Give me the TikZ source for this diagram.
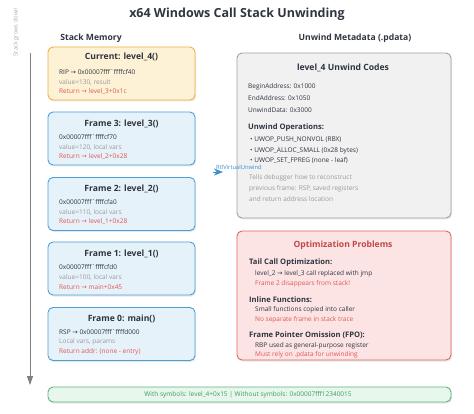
\documentclass[tikz,border=0pt]{standalone}
\usepackage{fontspec}
\setmainfont{Open Sans}
\newfontfamily\arrowfont{DejaVu Sans}
\newcommand\rarr{{\arrowfont →}}
\usetikzlibrary{arrows.meta,shadows}

\definecolor{inkdark}{HTML}{2E3440}
\definecolor{inkgray}{HTML}{9A9A9A}
\definecolor{inkred}{HTML}{E05555}
\definecolor{curfill}{HTML}{FDF1D6}
\definecolor{curline}{HTML}{F2B040}
\definecolor{framefill}{HTML}{E6F2FA}
\definecolor{frameline}{HTML}{4B9ED8}
\definecolor{metafill}{HTML}{F1F1F1}
\definecolor{metaline}{HTML}{A0A0A0}
\definecolor{probfill}{HTML}{FDE4E4}
\definecolor{probline}{HTML}{E06464}
\definecolor{symfill}{HTML}{E8F7EC}
\definecolor{symline}{HTML}{5BB47F}
\definecolor{symtext}{HTML}{3E9A62}
\definecolor{unwindblue}{HTML}{3A8FD0}

\begin{document}
\begin{tikzpicture}[x=1pt,y=-1pt,
	box/.style={draw, rounded corners=5pt, line width=0.9pt, inner sep=0pt,
		drop shadow={shadow xshift=1pt, shadow yshift=-1.5pt, opacity=0.18}},
	curbox/.style={box, draw=curline, fill=curfill, minimum width=147pt, minimum height=53pt},
	framebox/.style={box, draw=frameline, fill=framefill, minimum width=147pt, minimum height=53pt},
	head/.style={font=\fontsize{8.6}{10}\selectfont\bfseries, text=inkdark},
	txt/.style={font=\fontsize{6.5}{7}\selectfont, text=inkdark, anchor=west, inner sep=0pt},
	faint/.style={txt, text=inkgray},
	warn/.style={txt, text=inkred},
	sub/.style={font=\fontsize{7.6}{9}\selectfont\bfseries, text=inkdark, anchor=west, inner sep=0pt}]
	\useasboundingbox (0,0) rectangle (474,414);

	% titles
	\node[font=\fontsize{12.5}{15}\selectfont\bfseries, text=inkdark] (title) at (237,14) {x64 Windows Call Stack Unwinding};
	\node[head] (stackhead) at (91,38) {Stack Memory};
	\node[head] (metahead) at (355,38) {Unwind Metadata (.pdata)};

	% stack direction
	\node[font=\fontsize{5.8}{7}\selectfont, text=inkgray!80, rotate=90] (grows) at (16,32) {Stack grows down};
	\coordinate (gtop) at (30,53);
	\coordinate (gbot) at (30,385);
	\draw[gray, line width=0.8pt, -{Triangle[length=9pt,width=6pt]}] (gtop) -- (gbot);

	% stack frames
	\node[curbox] (cur) at (121.5,73.5) {};
	\node[head] (cur-t) at (121.5,57) {Current: level\_4()};
	\node[txt] (cur-a) at (59,72) {RIP \rarr\ 0x00007fff\textasciigrave ffffcf40};
	\node[faint] (cur-b) at (59,82) {value=130, result};
	\node[warn] (cur-c) at (59,92) {Return \rarr\ level\_3+0x1c};

	\node[framebox] (f3) at (121.5,138.5) {};
	\node[head] (f3-t) at (121.5,124) {Frame 3: level\_3()};
	\node[txt] (f3-a) at (59,137) {0x00007fff\textasciigrave ffffcf70};
	\node[faint] (f3-b) at (59,147) {value=120, local vars};
	\node[warn] (f3-c) at (59,157) {Return \rarr\ level\_2+0x28};

	\node[framebox] (f2) at (121.5,204) {};
	\node[head] (f2-t) at (121.5,189) {Frame 2: level\_2()};
	\node[txt] (f2-a) at (59,202) {0x00007fff\textasciigrave ffffcfa0};
	\node[faint] (f2-b) at (59,212) {value=110, local vars};
	\node[warn] (f2-c) at (59,222) {Return \rarr\ level\_1+0x28};

	\node[framebox] (f1) at (121.5,268.5) {};
	\node[head] (f1-t) at (121.5,254) {Frame 1: level\_1()};
	\node[txt] (f1-a) at (59,267) {0x00007fff\textasciigrave ffffcfd0};
	\node[faint] (f1-b) at (59,277) {value=100, local vars};
	\node[warn] (f1-c) at (59,287) {Return \rarr\ main+0x45};

	\node[framebox] (f0) at (121.5,334) {};
	\node[head] (f0-t) at (121.5,319) {Frame 0: main()};
	\node[txt] (f0-a) at (59,332) {RSP \rarr\ 0x00007fff\textasciigrave ffffd000};
	\node[faint] (f0-b) at (59,342) {Local vars, params};
	\node[warn] (f0-c) at (59,352) {Return addr: (none - entry)};

	% unwind codes
	\node[box, draw=metaline, fill=metafill, minimum width=214pt, minimum height=165pt] (meta) at (344,135.5) {};
	\node[head] (meta-t) at (343,68) {level\_4 Unwind Codes};
	\node[txt] (meta-a) at (248,87) {BeginAddress: 0x1000};
	\node[txt] (meta-b) at (248,98.5) {EndAddress: 0x1050};
	\node[txt] (meta-c) at (248,110) {UnwindData: 0x3000};
	\node[sub] (ops) at (248,128) {Unwind Operations:};
	\node[txt] (op1) at (250,140) {• UWOP\_PUSH\_NONVOL (RBX)};
	\node[txt] (op2) at (250,150.5) {• UWOP\_ALLOC\_SMALL (0x28 bytes)};
	\node[txt] (op3) at (250,161) {• UWOP\_SET\_FPREG (none - leaf)};
	\node[faint] (tell1) at (249,178) {Tells debugger how to reconstruct};
	\node[faint] (tell2) at (249,188.5) {previous frame: RSP, saved registers};
	\node[faint] (tell3) at (249,199) {and return address location};

	\node[txt, text=unwindblue, font=\fontsize{5.8}{7}\selectfont] (rtl) at (216,167) {RtlVirtualUnwind};
	\coordinate (rtl-a) at (213,172);
	\coordinate (rtl-b) at (223,172);
	\draw[unwindblue, -{Stealth[length=9pt,width=7pt]}] (rtl-a) -- (rtl-b);

	% optimization problems
	\node[box, draw=probline, fill=probfill, minimum width=214pt, minimum height=129pt] (prob) at (344,295.5) {};
	\node[head, text=inkred!85!black] (prob-t) at (343,245) {Optimization Problems};
	\node[sub] (tco) at (249,263) {Tail Call Optimization:};
	\node[txt] (tco-a) at (255,274) {level\_2 \rarr\ level\_3 call replaced with jmp};
	\node[warn] (tco-b) at (255,283.5) {Frame 2 disappears from stack!};
	\node[sub] (inl) at (249,300) {Inline Functions:};
	\node[txt] (inl-a) at (255,310) {Small functions copied into caller};
	\node[warn] (inl-b) at (255,319.5) {No separate frame in stack trace};
	\node[sub] (fpo) at (249,335) {Frame Pointer Omission (FPO):};
	\node[txt] (fpo-a) at (255,345.5) {RBP used as general-purpose register};
	\node[warn] (fpo-b) at (255,355) {Must rely on .pdata for unwinding};

	% symbols
	\node[box, draw=symline, fill=symfill, minimum width=403pt, minimum height=15pt] (sym) at (249.5,394.5) {};
	\node[txt, anchor=center, text=symtext] (sym-t) at (248,394.5) {With symbols: level\_4+0x15 | Without symbols: 0x00007fff12340015};
\end{tikzpicture}
\end{document}
